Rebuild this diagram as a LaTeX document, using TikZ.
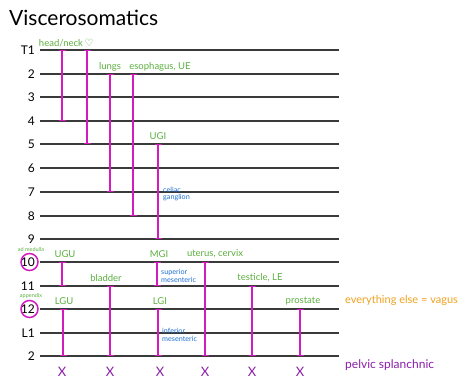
\documentclass[tikz,border=0pt]{standalone}
\usepackage{fontspec}
\setmainfont{Lato}
\newfontfamily\symfont{DejaVu Sans}
\usetikzlibrary{arrows.meta}
\definecolor{mag}{HTML}{D21CC0}
\definecolor{grn}{HTML}{5DB040}
\definecolor{blu}{HTML}{1F6FD2}
\definecolor{org}{HTML}{F0A21E}
\definecolor{pur}{HTML}{8A1FA8}
\definecolor{lin}{HTML}{3A3A3A}
\tikzset{
  level/.style={draw=lin, line width=1.4pt},
  lvlabel/.style={font=\fontsize{12}{12}\selectfont, text=black, inner sep=0pt},
  inn/.style={draw=mag, line width=1.8pt, {Bar[width=7pt,line width=1.2pt]}-{Bar[width=7pt,line width=1.2pt]}},
  organ/.style={font=\fontsize{9.5}{9.5}\selectfont, text=grn, inner sep=0pt},
  tiny/.style={font=\fontsize{5.5}{5.5}\selectfont, text=grn, inner sep=0pt},
  gang/.style={font=\fontsize{7.2}{7.6}\selectfont, text=blu, inner sep=0pt, align=left, anchor=west},
  xmark/.style={font=\fontsize{13}{13}\selectfont, text=pur, inner sep=0pt},
  ring/.style={draw=mag, line width=1.5pt, circle, minimum size=17pt, inner sep=0pt}
}
\begin{document}
\begin{tikzpicture}[x=1pt,y=-1pt]
\useasboundingbox[fill=white] (0,0) rectangle (474,384);
% title
\node[font=\fontsize{21}{21}\selectfont, anchor=west, inner sep=0pt] (title) at (9,18) {Viscerosomatics};
% levels
\foreach \n/\y/\t in {1/50/T1,2/74/2,3/97/3,4/121/4,5/144/5,6/168/6,7/192/7,8/216/8,9/239/9,10/262/10,11/286/11,12/309/12,13/333/L1,14/356/2}{
  \coordinate (l\n) at (40,\y);
  \coordinate (r\n) at (339,\y);
  \draw[level] (l\n) -- (r\n);
  \node[lvlabel, anchor=east] (lab\n) at (35,\y) {\t};
}
\node[ring] (c10) at (29.5,262) {};
\node[ring] (c12) at (29.5,309) {};
% innervation bars
\foreach \nm/\x/\a/\b in {a/62/1/4,b/87/1/5,c/110/2/7,d/133/2/8,e/158/5/9,f/62/10/11,g/63/12/14,h/110/11/14,i/157/10/11,j/158/12/14,k/205/10/14,l/252/11/14,m/300/12/14}{
  \coordinate (\nm t) at (\x,0 |- l\a);
  \coordinate (\nm b) at (\x,0 |- l\b);
}
\foreach \nm in {a,b,c,d,e,f,g,h,i,j,k,l,m}{
  \draw[inn] (\nm t) -- (\nm b);
}
% organ labels
\node[organ] (hn) at (61,43) {head/neck};
\node[organ, font=\symfont\fontsize{10}{10}\selectfont] (heart) at (89,43) {♡};
\node[organ] (lungs) at (110,67) {lungs};
\node[organ] (eso) at (160,67) {esophagus, UE};
\node[organ] (ugi) at (158,136) {UGI};
\node[gang] (celiac) at (163,194) {celiac\\ganglion};
\node[organ] (ugu) at (65,254) {UGU};
\node[tiny] (adm) at (31,249) {ad medulla};
\node[organ] (mgi) at (159,254) {MGI};
\node[organ] (ut) at (215,254) {uterus, cervix};
\node[gang] (sup) at (161,276) {superior\\mesenteric};
\node[organ] (blad) at (106,278) {bladder};
\node[organ] (test) at (260,278) {testicle, LE};
\node[tiny] (app) at (31,296) {appendix};
\node[organ] (lgu) at (64,301) {LGU};
\node[organ] (lgi) at (160,301) {LGI};
\node[organ] (pros) at (303,301) {prostate};
\node[gang] (inf) at (162,335) {inferior\\mesenteric};
% X marks
\foreach \nm/\x in {a/62,b/110,c/160,d/205,e/252,f/300}{
  \node[xmark] (x\nm) at (\x,372) {X};
}
% notes
\node[font=\fontsize{11}{11}\selectfont, text=org, anchor=west, inner sep=0pt] (vagus) at (345,300) {everything else = vagus};
\node[font=\fontsize{12}{12}\selectfont, text=pur, anchor=west, inner sep=0pt] (pelv) at (345,365) {pelvic splanchnic};
\end{tikzpicture}
\end{document}
